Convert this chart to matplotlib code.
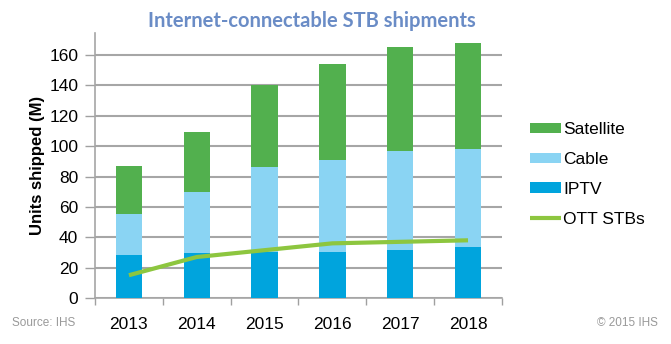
import matplotlib.pyplot as plt
import numpy as np

plt.rcParams['font.family'] = ['Liberation Sans', 'DejaVu Sans']

years = ['2013', '2014', '2015', '2016', '2017', '2018']
iptv = [28, 29.5, 30, 30, 31.5, 33.5]
cable_top = [55, 70, 86.5, 91, 97, 98]
total = [87, 109, 140, 154, 165.5, 168]
ott = [15, 27, 31.5, 36, 37, 38]

# stacked segment heights
cable = [c - i for c, i in zip(cable_top, iptv)]
satellite = [t - c for t, c in zip(total, cable_top)]

c_sat = '#52b04e'
c_cab = '#8ad4f3'
c_iptv = '#00a4dd'
c_ott = '#8dc63f'

fig = plt.figure(figsize=(6.71, 3.44), dpi=100)
ax = fig.add_axes([0.1416, 0.1337, 0.6064, 0.7703])

x = np.arange(len(years))
w = 0.39
b_iptv = ax.bar(x, iptv, w, color=c_iptv, zorder=3)
b_cab = ax.bar(x, cable, w, bottom=iptv, color=c_cab, zorder=3)
b_sat = ax.bar(x, satellite, w, bottom=cable_top, color=c_sat, zorder=3)
l_ott, = ax.plot(x, ott, color=c_ott, lw=3, zorder=4, solid_capstyle='butt')

ax.set_xlim(-0.5, 5.5)
ax.set_ylim(0, 174.5)
ax.set_yticks(range(0, 161, 20))
ax.set_xticks(x)
ax.set_xticklabels(years, fontsize=12.5)
ax.set_xticks(np.arange(-0.5, 6, 1), minor=True)
ax.tick_params(axis='x', which='major', length=0, pad=14)
ax.tick_params(axis='x', which='minor', length=5, color='#a0a0a0', width=1)
ax.tick_params(axis='y', length=7, color='#a0a0a0', width=1, labelsize=12.5, pad=5)
ax.grid(axis='y', color='#a6a6a6', lw=1.5, zorder=0)
for s in ['top', 'right']:
    ax.spines[s].set_visible(False)
for s in ['left', 'bottom']:
    ax.spines[s].set_color('#a6a6a6')
    ax.spines[s].set_linewidth(1.2)

ax.set_ylabel('Units shipped (M)', fontsize=12, fontweight='bold', labelpad=3)

fig.legend([b_sat, b_cab, b_iptv, l_ott],
           ['Satellite', 'Cable', 'IPTV', 'OTT STBs'],
           loc='upper left', bbox_to_anchor=(0.766, 0.69), frameon=False,
           fontsize=12.5, handlelength=1.8, handleheight=0.55, handletextpad=0.15,
           labelspacing=0.85)

fig.text(0.465, 0.94, 'Internet-connectable STB shipments', ha='center', va='center',
         fontsize=14.5, fontweight='bold', color='#6a8cc6', family=['Lato', 'DejaVu Sans'])
fig.text(0.018, 0.06, 'Source: IHS', fontsize=8.5, color='#999999', va='center')
fig.text(0.98, 0.06, '\u00a9 2015 IHS', fontsize=8.5, color='#999999', va='center', ha='right')

fig.savefig('out.png', dpi=100)
